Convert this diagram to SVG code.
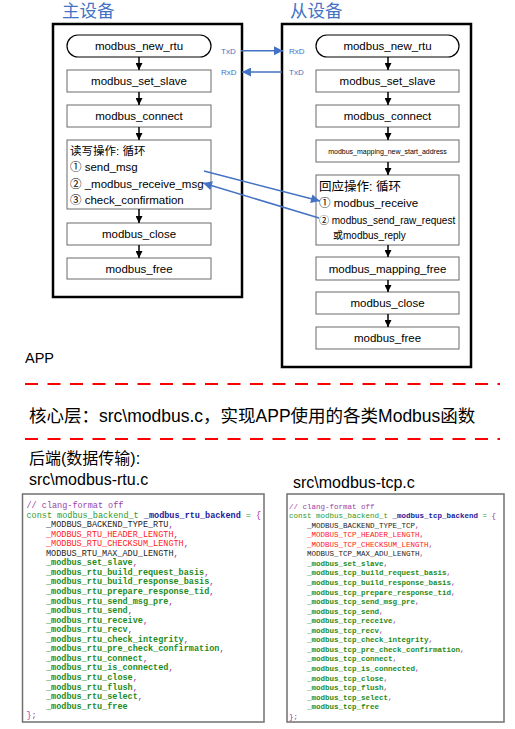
<svg xmlns="http://www.w3.org/2000/svg" width="515" height="729" viewBox="0 0 515 729">
<defs>
<marker id="ab" viewBox="0 0 10 10" refX="10" refY="5" markerWidth="7" markerHeight="7" markerUnits="userSpaceOnUse" orient="auto"><path d="M0,0 L10,5 L0,10 z" fill="#000"/></marker>
<marker id="au" viewBox="0 0 10 10" refX="10" refY="5" markerWidth="10" markerHeight="9" markerUnits="userSpaceOnUse" orient="auto"><path d="M0,0 L10,5 L0,10 z" fill="#4472C4"/></marker>
<style>
text{font-family:"Liberation Sans","Noto Sans CJK SC",sans-serif;}
.title{font-size:17.5px;fill:#4472C4;}
.outer{fill:#fff;stroke:#000;stroke-width:2.5;}
.node{fill:#fff;stroke:#6a6a6a;stroke-width:1;}
.lbl{font-size:11.5px;fill:#000;text-anchor:middle;}
.t{font-size:11.5px;fill:#000;}
.s{font-size:10px;fill:#000;}
.io{font-size:8px;fill:#4472C4;}
.con{stroke:#000;stroke-width:1.5;fill:none;marker-end:url(#ab);}
.blu{stroke:#4472C4;stroke-width:1.5;fill:none;}
.red{stroke:#FF0000;stroke-width:2;stroke-dasharray:13 9.5;fill:none;}
.big{font-size:17.5px;fill:#000;}
.mid{font-size:16px;fill:#000;}
.codebox{fill:#fff;stroke:#707070;stroke-width:1.5;}
.code{font-family:"Liberation Mono","DejaVu Sans Mono",monospace;fill:#000;}
.cl{font-size:8.5px;}
.cr{font-size:7.5px;}
.cm{fill:#9B3FA8;}
.g{fill:#2E9A2E;}
.gb{fill:#1E8C1E;font-weight:bold;}
.bl{fill:#1A1A9A;font-weight:bold;}
.p{fill:#A030A0;}
.r{fill:#FF2020;}
.k{fill:#222;}
</style>
</defs>

<text class="title" x="62" y="17">主设备</text>
<text class="title" x="290" y="17">从设备</text>

<g id="master">
<rect class="outer" x="53" y="24" width="189" height="273"/>
</g>
<g id="slave">
<rect class="outer" x="282" y="24" width="189" height="343"/>
</g>

<g id="m_new_rtu"><rect x="67" y="35" width="144" height="22" rx="11" ry="11" fill="#fff" stroke="#000" stroke-width="1.2"/><text class="lbl" x="139" y="50">modbus_new_rtu</text></g>
<g id="m_set_slave"><rect class="node" x="67" y="70" width="144" height="22"/><text class="lbl" x="139" y="85">modbus_set_slave</text></g>
<g id="m_connect"><rect class="node" x="67" y="105" width="144" height="22"/><text class="lbl" x="139" y="120">modbus_connect</text></g>
<g id="m_loop"><rect class="node" x="67" y="140" width="144" height="69"/>
<text class="t" x="70" y="155">读写操作: 循环</text>
<text class="t" x="70" y="171">① send_msg</text>
<text class="t" x="70" y="187.5">② _modbus_receive_msg</text>
<text class="t" x="70" y="204">③ check_confirmation</text></g>
<g id="m_close"><rect class="node" x="67" y="223" width="144" height="22"/><text class="lbl" x="139" y="238">modbus_close</text></g>
<g id="m_free"><rect class="node" x="67" y="258" width="144" height="21"/><text class="lbl" x="139" y="272.5">modbus_free</text></g>

<g id="s_new_rtu"><rect x="316" y="35" width="143" height="22" rx="11" ry="11" fill="#fff" stroke="#000" stroke-width="1.2"/><text class="lbl" x="387.5" y="50">modbus_new_rtu</text></g>
<g id="s_set_slave"><rect class="node" x="316" y="70" width="143" height="22"/><text class="lbl" x="387.5" y="85">modbus_set_slave</text></g>
<g id="s_connect"><rect class="node" x="316" y="105" width="143" height="22"/><text class="lbl" x="387.5" y="120">modbus_connect</text></g>
<g id="s_mapping_new"><rect class="node" x="316" y="140" width="143" height="22"/><text x="387.5" y="153.5" style="font-size:7px;text-anchor:middle;fill:#000">modbus_mapping_new_start_address</text></g>
<g id="s_loop"><rect class="node" x="316" y="175" width="143" height="70"/>
<text x="319" y="190.5" style="font-size:12.5px;fill:#000">回应操作: 循环</text>
<text class="t" x="319" y="207">① modbus_receive</text>
<text class="s" x="319" y="223.5">② modbus_send_raw_request</text>
<text class="s" x="333" y="238.5">或modbus_reply</text></g>
<g id="s_mapping_free"><rect class="node" x="316" y="257" width="143" height="23"/><text class="lbl" x="387.5" y="272.5">modbus_mapping_free</text></g>
<g id="s_close"><rect class="node" x="316" y="292" width="143" height="22"/><text class="lbl" x="387.5" y="307">modbus_close</text></g>
<g id="s_free"><rect class="node" x="316" y="327" width="143" height="22"/><text class="lbl" x="387.5" y="342">modbus_free</text></g>

<g id="io_labels">
<text class="io" x="221" y="53.5">TxD</text>
<text class="io" x="221" y="75">RxD</text>
<text class="io" x="289" y="53.5">RxD</text>
<text class="io" x="289" y="75">TxD</text>
</g>

<g id="connectors">
<line class="con" x1="139" y1="57" x2="139" y2="70"/>
<line class="con" x1="139" y1="92" x2="139" y2="105"/>
<line class="con" x1="139" y1="127" x2="139" y2="140"/>
<line class="con" x1="139" y1="209" x2="139" y2="223"/>
<line class="con" x1="139" y1="245" x2="139" y2="258"/>
<line class="con" x1="388" y1="57" x2="388" y2="70"/>
<line class="con" x1="388" y1="92" x2="388" y2="105"/>
<line class="con" x1="388" y1="127" x2="388" y2="140"/>
<line class="con" x1="388" y1="162" x2="388" y2="175"/>
<line class="con" x1="388" y1="245" x2="388" y2="257"/>
<line class="con" x1="388" y1="280" x2="388" y2="292"/>
<line class="con" x1="388" y1="314" x2="388" y2="327"/>
<line class="blu" x1="241" y1="50.7" x2="283" y2="50.7" marker-end="url(#au)"/>
<line class="blu" x1="282" y1="72" x2="242" y2="72" marker-end="url(#au)"/>
<line class="blu" x1="204" y1="171" x2="320" y2="201" marker-end="url(#au)"/>
<line class="blu" x1="319" y1="218" x2="203" y2="183" marker-end="url(#au)"/>
</g>

<text x="25" y="363" style="font-size:14.5px;fill:#000">APP</text>
<line class="red" x1="25" y1="384" x2="500" y2="384"/>
<text class="big" x="29" y="422">核心层：src\modbus.c，实现APP使用的各类Modbus函数</text>
<line class="red" x1="25" y1="439" x2="500" y2="439"/>
<text class="mid" x="29" y="464">后端(数据传输):</text>
<text class="mid" x="29" y="484.5">src\modbus-rtu.c</text>
<text class="mid" x="293" y="487.5">src\modbus-tcp.c</text>

<g id="rtu_code">
<rect class="codebox" x="22.5" y="494" width="241.5" height="228"/>
<text class="code cl" x="26.5" y="508"><tspan class="cm">// clang-format off</tspan></text>
<text class="code cl" x="26.5" y="517.5"><tspan class="g">const modbus_backend_t </tspan><tspan class="bl">_modbus_rtu_backend</tspan><tspan class="g"> = </tspan><tspan class="p">{</tspan></text>
<text class="code cl" x="46" y="527"><tspan class="k">_MODBUS_BACKEND_TYPE_RTU</tspan><tspan class="p">,</tspan></text>
<text class="code cl" x="46" y="536.6"><tspan class="r">_MODBUS_RTU_HEADER_LENGTH</tspan><tspan class="p">,</tspan></text>
<text class="code cl" x="46" y="546.2"><tspan class="r">_MODBUS_RTU_CHECKSUM_LENGTH</tspan><tspan class="p">,</tspan></text>
<text class="code cl" x="46" y="555.7"><tspan class="k">MODBUS_RTU_MAX_ADU_LENGTH</tspan><tspan class="p">,</tspan></text>
<text class="code cl" x="46" y="565.3"><tspan class="gb">_modbus_set_slave</tspan><tspan class="p">,</tspan></text>
<text class="code cl" x="46" y="574.8"><tspan class="gb">_modbus_rtu_build_request_basis</tspan><tspan class="p">,</tspan></text>
<text class="code cl" x="46" y="584.4"><tspan class="gb">_modbus_rtu_build_response_basis</tspan><tspan class="p">,</tspan></text>
<text class="code cl" x="46" y="593.9"><tspan class="gb">_modbus_rtu_prepare_response_tid</tspan><tspan class="p">,</tspan></text>
<text class="code cl" x="46" y="603.5"><tspan class="gb">_modbus_rtu_send_msg_pre</tspan><tspan class="p">,</tspan></text>
<text class="code cl" x="46" y="613"><tspan class="gb">_modbus_rtu_send</tspan><tspan class="p">,</tspan></text>
<text class="code cl" x="46" y="622.6"><tspan class="gb">_modbus_rtu_receive</tspan><tspan class="p">,</tspan></text>
<text class="code cl" x="46" y="632.2"><tspan class="gb">_modbus_rtu_recv</tspan><tspan class="p">,</tspan></text>
<text class="code cl" x="46" y="641.7"><tspan class="gb">_modbus_rtu_check_integrity</tspan><tspan class="p">,</tspan></text>
<text class="code cl" x="46" y="651.3"><tspan class="gb">_modbus_rtu_pre_check_confirmation</tspan><tspan class="p">,</tspan></text>
<text class="code cl" x="46" y="660.8"><tspan class="gb">_modbus_rtu_connect</tspan><tspan class="p">,</tspan></text>
<text class="code cl" x="46" y="670.4"><tspan class="gb">_modbus_rtu_is_connected</tspan><tspan class="p">,</tspan></text>
<text class="code cl" x="46" y="679.9"><tspan class="gb">_modbus_rtu_close</tspan><tspan class="p">,</tspan></text>
<text class="code cl" x="46" y="689.5"><tspan class="gb">_modbus_rtu_flush</tspan><tspan class="p">,</tspan></text>
<text class="code cl" x="46" y="699"><tspan class="gb">_modbus_rtu_select</tspan><tspan class="p">,</tspan></text>
<text class="code cl" x="46" y="708.6"><tspan class="gb">_modbus_rtu_free</tspan></text>
<text class="code cl" x="26.5" y="718.2"><tspan class="p">};</tspan></text>
</g>

<g id="tcp_code">
<rect class="codebox" x="287" y="494" width="217" height="228"/>
<text class="code cr" x="289" y="508.5"><tspan class="cm">// clang-format off</tspan></text>
<text class="code cr" x="289" y="518"><tspan class="g">const modbus_backend_t </tspan><tspan class="bl">_modbus_tcp_backend</tspan><tspan class="g"> = </tspan><tspan class="p">{</tspan></text>
<text class="code cr" x="307" y="527.6"><tspan class="k">_MODBUS_BACKEND_TYPE_TCP</tspan><tspan class="p">,</tspan></text>
<text class="code cr" x="307" y="537.2"><tspan class="r">_MODBUS_TCP_HEADER_LENGTH</tspan><tspan class="p">,</tspan></text>
<text class="code cr" x="307" y="546.7"><tspan class="r">_MODBUS_TCP_CHECKSUM_LENGTH</tspan><tspan class="p">,</tspan></text>
<text class="code cr" x="307" y="556.3"><tspan class="k">MODBUS_TCP_MAX_ADU_LENGTH</tspan><tspan class="p">,</tspan></text>
<text class="code cr" x="307" y="565.8"><tspan class="gb">_modbus_set_slave</tspan><tspan class="p">,</tspan></text>
<text class="code cr" x="307" y="575.4"><tspan class="gb">_modbus_tcp_build_request_basis</tspan><tspan class="p">,</tspan></text>
<text class="code cr" x="307" y="584.9"><tspan class="gb">_modbus_tcp_build_response_basis</tspan><tspan class="p">,</tspan></text>
<text class="code cr" x="307" y="594.5"><tspan class="gb">_modbus_tcp_prepare_response_tid</tspan><tspan class="p">,</tspan></text>
<text class="code cr" x="307" y="604"><tspan class="gb">_modbus_tcp_send_msg_pre</tspan><tspan class="p">,</tspan></text>
<text class="code cr" x="307" y="613.6"><tspan class="gb">_modbus_tcp_send</tspan><tspan class="p">,</tspan></text>
<text class="code cr" x="307" y="623.2"><tspan class="gb">_modbus_tcp_receive</tspan><tspan class="p">,</tspan></text>
<text class="code cr" x="307" y="632.7"><tspan class="gb">_modbus_tcp_recv</tspan><tspan class="p">,</tspan></text>
<text class="code cr" x="307" y="642.3"><tspan class="gb">_modbus_tcp_check_integrity</tspan><tspan class="p">,</tspan></text>
<text class="code cr" x="307" y="651.8"><tspan class="gb">_modbus_tcp_pre_check_confirmation</tspan><tspan class="p">,</tspan></text>
<text class="code cr" x="307" y="661.4"><tspan class="gb">_modbus_tcp_connect</tspan><tspan class="p">,</tspan></text>
<text class="code cr" x="307" y="670.9"><tspan class="gb">_modbus_tcp_is_connected</tspan><tspan class="p">,</tspan></text>
<text class="code cr" x="307" y="680.5"><tspan class="gb">_modbus_tcp_close</tspan><tspan class="p">,</tspan></text>
<text class="code cr" x="307" y="690"><tspan class="gb">_modbus_tcp_flush</tspan><tspan class="p">,</tspan></text>
<text class="code cr" x="307" y="699.6"><tspan class="gb">_modbus_tcp_select</tspan><tspan class="p">,</tspan></text>
<text class="code cr" x="307" y="709.2"><tspan class="gb">_modbus_tcp_free</tspan></text>
<text class="code cr" x="289" y="718.7"><tspan class="p">};</tspan></text>
</g>
</svg>
